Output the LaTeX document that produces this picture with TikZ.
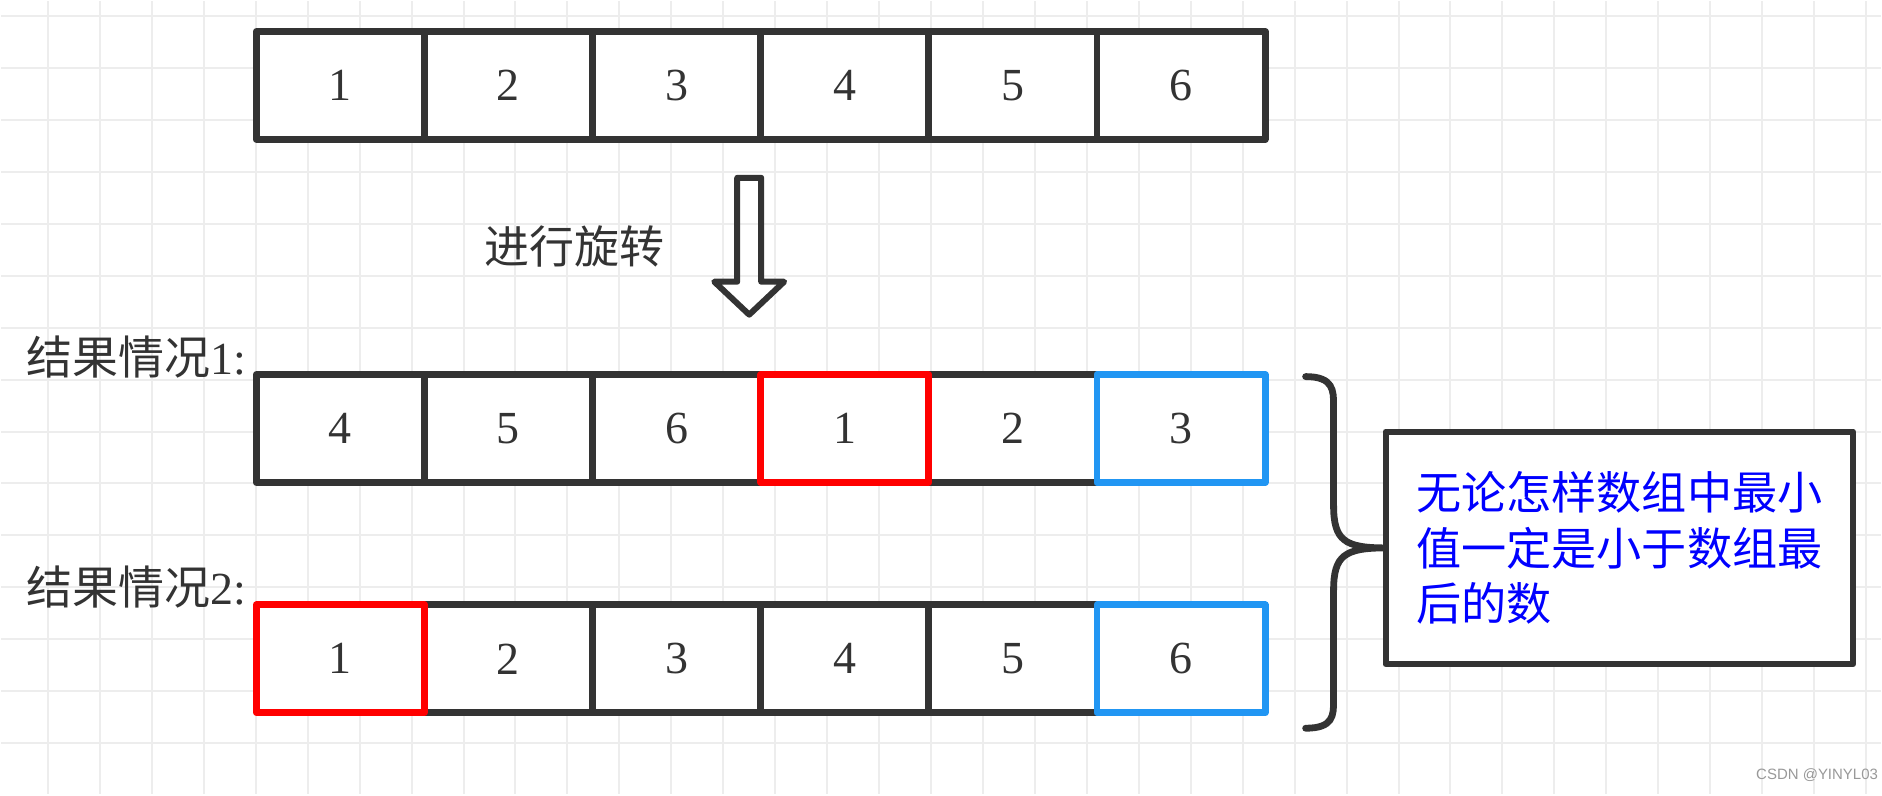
\documentclass[tikz,border=0pt]{standalone}
\usepackage{fontspec}
\setmainfont{Liberation Serif}
\newfontfamily\cjk{Noto Sans CJK SC}
\newfontfamily\wmfont{Liberation Sans}
\usepackage{tikz}
\usetikzlibrary{positioning}
\definecolor{ink}{HTML}{333333}
\definecolor{gridc}{HTML}{EDEDED}
\definecolor{hotred}{HTML}{FF0000}
\definecolor{lastblue}{HTML}{2196F3}
\definecolor{noteblue}{HTML}{0000FF}

\begin{document}
\begin{tikzpicture}[x=0.5pt, y=-0.5pt,
  cell/.style={draw=ink, fill=white, line width=3.4pt, line join=round, outer sep=0pt,
               inner sep=0pt, minimum width=84.15pt, minimum height=54pt, text=ink,
               font=\fontsize{23}{23}\selectfont},
  hot/.style={cell, draw=hotred},
  last/.style={cell, draw=lastblue},
  tag/.style={text=ink, inner sep=0pt, font=\fontsize{23}{27}\selectfont},
  note/.style={draw=ink, fill=white, line width=3pt, line join=round, outer sep=0pt,
               minimum width=234pt, minimum height=116.5pt, align=left,
               text=noteblue, font=\cjk\fontsize{22.6}{27.8}\selectfont},
]
% 背景网格
\fill[white] (0,0) rectangle (1882,794);
\foreach \gx in {0,...,35}
  \draw[gridc, line width=1pt] ({47+52*\gx},0) -- ({47+52*\gx},794);
\foreach \gy in {0,...,14}
  \draw[gridc, line width=1pt] (0,{15+52*\gy}) -- (1882,{15+52*\gy});
\useasboundingbox (0,0) rectangle (1882,794);

% 原始数组
\foreach \i in {1,...,6}
  \node[cell] (t\i) at ({255.5+168.33*(\i-0.5)}, 84.5) {\i};

% 旋转箭头
\node[tag, font=\cjk\fontsize{22.5}{27}\selectfont] (rot) at (574, 246) {进行旋转};
\draw[ink, line width=3pt, line join=round]
  (737,177) -- (761,177) -- (761,281) -- (784,281) -- (749,314)
  -- (714,281) -- (737,281) -- cycle;

% 结果情况1
\node[tag, anchor=base west] (lab1) at (25, 374) {{\cjk 结果情况}1:};
\foreach \v/\i in {4/1,5/2,6/3,2/5}
  \node[cell] (a\i) at ({255.5+168.33*(\i-0.5)}, 428) {\v};
\node[hot]  (a4) at (844.7, 428) {1};
\node[last] (a6) at (1181.3, 428) {3};

% 结果情况2
\node[tag, anchor=base west] (lab2) at (25, 604.5) {{\cjk 结果情况}2:};
\foreach \i in {2,...,5}
  \node[cell] (b\i) at ({255.5+168.33*(\i-0.5)}, 658.5) {\i};
\node[hot]  (b1) at (339.7, 658.5) {1};
\node[last] (b6) at (1181.3, 658.5) {6};

% 结论
\node[note] (note) at (1620, 547.5) {无论怎样数组中最小\\值一定是小于数组最\\后的数};
\coordinate (bt) at (1306, 376);
\coordinate (bb) at (1306, 728);
\draw[ink, line width=3.4pt, line cap=round]
  (bt) .. controls (1334,376) and (1334,390) .. (1334,405)
  -- (1334,505) .. controls (1334,540) and (1345,547.5) .. (note.west)
  .. controls (1345,547.5) and (1334,555) .. (1334,590)
  -- (1334,700) .. controls (1334,715) and (1334,728) .. (bb);

\node[text=gray!80, inner sep=0pt, font=\wmfont\fontsize{7.5}{9}\selectfont] (wm) at (1818, 775) {CSDN @YINYL03};
\end{tikzpicture}
\end{document}
